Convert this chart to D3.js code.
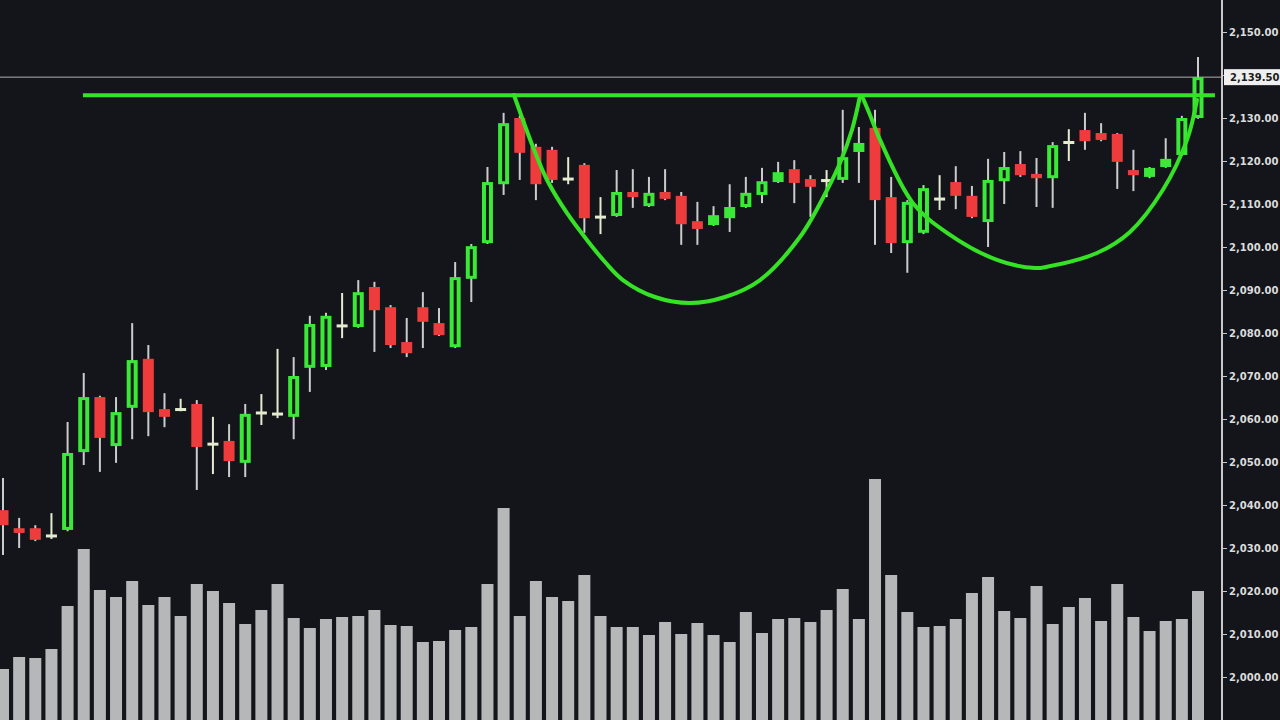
<!DOCTYPE html>
<html><head><meta charset="utf-8">
<script src="https://cdn.jsdelivr.net/npm/d3@7"></script>
<style>html,body{margin:0;padding:0;background:#13151b;overflow:hidden}svg{display:block}</style>
</head><body>
<svg id="chart" width="1280" height="720"></svg>
<script>
// ---- data ----
const opens = [2038.8,2034.6,2034.6,2032.6,2034.2,2052.3,2065.1,2053.7,2062.6,2074.0,
  2062.3,2062.1,2063.5,2053.9,2054.9,2049.8,2061.2,2060.9,2060.5,2071.9,
  2072.1,2081.4,2081.4,2090.7,2086.0,2077.9,2086.0,2082.3,2076.7,2092.6,
  2100.9,2114.6,2130.0,2123.3,2122.6,2115.6,2119.1,2106.7,2107.2,2112.8,
  2109.5,2112.8,2111.9,2106.0,2105.1,2106.7,2109.3,2112.1,2115.1,2118.1,
  2115.8,2115.1,2115.6,2122.1,2127.7,2111.6,2100.9,2103.3,2110.9,2115.1,
  2111.9,2105.8,2115.3,2119.3,2117.0,2116.0,2124.0,2127.2,2126.5,2126.3,
  2117.9,2116.3,2118.6,2121.4,2130.0];
const closes = [2035.3,2033.5,2031.9,2033.0,2052.1,2065.1,2055.6,2061.6,2073.7,2061.6,
  2060.5,2062.3,2053.5,2054.4,2050.2,2061.2,2061.6,2061.4,2070.0,2082.1,
  2084.0,2081.9,2089.5,2085.3,2077.2,2075.3,2082.6,2079.5,2093.0,2100.2,
  2115.1,2128.8,2121.9,2114.6,2115.6,2116.0,2106.7,2107.2,2112.8,2111.6,
  2112.6,2111.2,2105.3,2104.2,2107.4,2109.3,2112.6,2115.3,2117.4,2114.9,
  2114.0,2115.8,2120.9,2124.2,2110.9,2100.9,2110.5,2113.7,2111.4,2111.9,
  2107.0,2115.6,2118.6,2116.7,2116.0,2123.7,2124.6,2124.6,2124.9,2119.8,
  2116.7,2118.4,2120.5,2130.0,2139.5];
const highs = [2046.3,2037.0,2035.3,2038.1,2059.3,2070.7,2065.4,2065.1,2082.3,2077.2,
  2066.0,2064.7,2064.4,2060.5,2058.8,2063.5,2065.8,2076.3,2074.4,2084.0,
  2084.7,2089.3,2092.3,2091.9,2086.5,2083.5,2089.5,2085.8,2096.5,2100.7,
  2118.6,2131.2,2130.5,2124.0,2123.3,2120.9,2119.5,2111.6,2117.9,2118.1,
  2116.3,2118.1,2112.8,2110.5,2109.5,2114.6,2116.3,2118.4,2119.8,2120.2,
  2116.7,2117.9,2131.9,2127.9,2131.9,2116.3,2110.9,2114.4,2116.7,2118.8,
  2114.2,2120.5,2122.1,2122.3,2120.7,2124.4,2127.4,2131.2,2128.8,2126.5,
  2122.6,2118.6,2125.3,2130.5,2144.2];
const lows = [2028.4,2030.0,2031.6,2032.1,2033.9,2049.3,2047.7,2049.8,2055.3,2056.0,
  2058.1,2061.8,2043.5,2047.2,2046.5,2046.5,2058.6,2060.2,2055.3,2066.3,
  2071.4,2078.8,2081.2,2075.6,2076.5,2074.4,2076.5,2079.3,2076.5,2087.2,
  2100.7,2112.1,2115.6,2110.9,2114.9,2114.6,2103.3,2103.0,2107.0,2109.1,
  2109.3,2110.9,2100.5,2100.5,2104.9,2103.5,2109.1,2110.2,2114.9,2110.2,
  2107.0,2111.6,2114.9,2114.9,2100.5,2098.6,2094.0,2103.0,2108.6,2108.8,
  2106.7,2100.0,2110.0,2116.3,2109.3,2109.1,2120.0,2122.6,2124.6,2113.5,
  2113.0,2116.0,2118.4,2121.2,2129.8];
const volumes = [5100,6300,6200,7100,11400,17100,13000,12300,13900,11500,
  12300,10400,13600,12900,11700,9600,11000,13600,10200,9200,
  10100,10300,10400,11000,9500,9400,7800,7900,9000,9300,
  13600,21200,10400,13900,12300,11900,14500,10400,9300,9300,
  8500,9800,8600,9700,8500,7800,10800,8700,10100,10200,
  9800,11000,13100,10100,24100,14500,10800,9300,9400,10100,
  12700,14300,10900,10200,13400,9600,11300,12200,9900,13600,
  10300,8900,9900,10100,12900];
const priceTicks = [2000,2010,2020,2030,2040,2050,2060,2070,2080,2090,2100,2110,2120,2130,2140,2150];
const resistanceLevel = 2135.3;
const resistanceFrom = 4.95, resistanceTo = 75.05;   // bar index span
const cupOne = [[31.64,2135.35],[32.82,2123.25],[33.69,2115.58],[34.92,2107.91],[36.16,2101.63],
  [37.28,2096.51],[38.39,2092.32],[40.37,2088.37],[42.54,2086.97],[44.71,2088.37],[46.88,2092.32],
  [49.35,2102.32],[51.03,2113.25],[51.83,2119.53],[52.57,2127.21],[53.07,2135.11]];
const cupTwo = [[53.19,2135.11],[53.69,2130.7],[54.31,2124.9],[56.35,2110.2],[58.46,2103.3],
  [61.55,2097.0],[63.91,2095.1],[64.65,2095.4],[67.74,2098.6],[69.79,2103.5],[71.83,2113.3],
  [73.32,2124.9],[73.94,2134.2]];

// ---- drawing ----
const W = 1280, H = 720, axisX = 1222;
const svg = d3.select('#chart');
const C = { bg:'#13151b', up:'#3ae838', down:'#ee3b3b', doji:'#e4ecd0', wick:'#cbcbcb',
  vol:'#b6b7b9', line:'#36e226', axis:'#c9c9c9', text:'#dcdcdc' };

svg.append('rect').attr('width',W).attr('height',H).attr('fill',C.bg);

const n = opens.length;
const idx = d3.range(n);
const x = d3.scaleLinear().domain([0, n-1]).range([3, 1198]);
const y = d3.scaleLinear().domain([2000, 2150]).range([677, 32]);
const yv = d3.scaleLinear().domain([0, d3.max(volumes)]).range([720, 479]);

// volume
svg.append('g').selectAll('rect').data(idx).join('rect')
  .attr('x', i => x(i) - 6).attr('width', 12)
  .attr('y', i => yv(volumes[i])).attr('height', i => 720 - yv(volumes[i]))
  .attr('fill', C.vol);

// last price line
const lastPrice = closes[n-1];
svg.append('line').attr('x1',0).attr('x2',axisX).attr('y1',y(lastPrice)).attr('y2',y(lastPrice))
  .attr('stroke','#b0b0b0').attr('stroke-width',1);

// candles
const cg = svg.append('g');
idx.forEach(i => {
  const o = opens[i], c = closes[i];
  const isDoji = Math.abs(c - o) < 1.0;
  const col = isDoji ? C.doji : (c >= o ? C.up : C.down);
  cg.append('line').attr('x1',x(i)).attr('x2',x(i)).attr('y1',y(highs[i])).attr('y2',y(lows[i]))
    .attr('stroke', isDoji ? C.doji : C.wick).attr('stroke-width',2);
  const top = y(Math.max(o,c)), bot = y(Math.min(o,c));
  const h = Math.max(3, bot - top);
  cg.append('rect').attr('x', x(i) - 5.5).attr('width', 11)
    .attr('y', isDoji ? (top + bot)/2 - 1.5 : top).attr('height', isDoji ? 3 : h)
    .attr('fill', col);
  if (!isDoji && c > o && h > 12) {
    cg.append('rect').attr('x', x(i) - 1.5).attr('width', 3)
      .attr('y', top + 3).attr('height', h - 6).attr('fill', '#0f1a10');
  }
});

// resistance line
svg.append('line').attr('x1', x(resistanceFrom)).attr('x2', x(resistanceTo))
  .attr('y1', y(resistanceLevel)).attr('y2', y(resistanceLevel))
  .attr('stroke', C.line).attr('stroke-width', 4);

// cups
const cupLine = d3.line().x(d => x(d[0])).y(d => y(d[1])).curve(d3.curveCatmullRom.alpha(0.5));
[cupOne, cupTwo].forEach(pts => {
  svg.append('path').attr('d', cupLine(pts)).attr('fill','none')
    .attr('stroke', C.line).attr('stroke-width', 4).attr('stroke-linecap','round');
});

// right axis
const fmt = d3.format(',.2f');
const ax = svg.append('g').attr('transform', `translate(${axisX},0)`)
  .call(d3.axisRight(y).tickValues(priceTicks).tickSize(5).tickPadding(2).tickFormat(fmt));
ax.select('.domain').remove();
ax.selectAll('.tick line').attr('stroke', C.axis);
ax.selectAll('.tick text').attr('fill', C.text).style('font-family','DejaVu Sans')
  .style('font-size','10px').style('font-weight','bold');
svg.append('line').attr('x1',axisX).attr('x2',axisX).attr('y1',0).attr('y2',H)
  .attr('stroke',C.axis).attr('stroke-width',2);

// last price label
const lp = svg.append('g').attr('transform', `translate(${axisX+2},${y(lastPrice)})`);
lp.append('rect').attr('x',0).attr('y',-8).attr('width',56).attr('height',16).attr('fill','#efefef');
lp.append('text').attr('x',6).attr('y',4).text(fmt(lastPrice))
  .attr('fill','#1a1a1a').style('font-family','DejaVu Sans').style('font-size','10px').style('font-weight','bold');
</script>
</body></html>
